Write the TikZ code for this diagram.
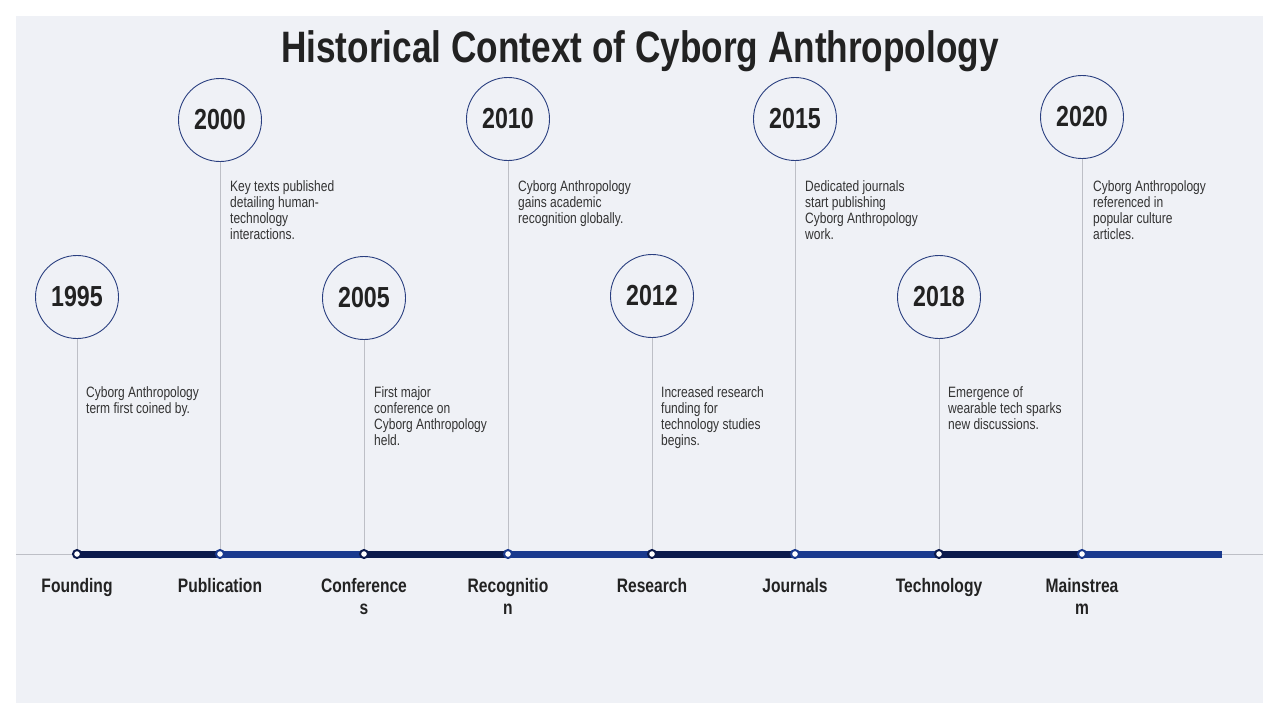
\documentclass[tikz,border=0pt]{standalone}
\usepackage{fontspec}
\setmainfont{Liberation Sans}[FakeStretch=0.8]
\usetikzlibrary{positioning}

\definecolor{panel}{HTML}{EFF1F6}
\definecolor{navy}{HTML}{0B1A4C}
\definecolor{royal}{HTML}{1A3A8E}
\definecolor{ring}{HTML}{2A3F80}
\definecolor{stem}{HTML}{BDBFC6}
\definecolor{ink}{HTML}{222222}
\definecolor{note}{HTML}{333333}

\begin{document}
\begin{tikzpicture}[x=1pt, y=-1pt,
    year/.style={draw=ring, fill=panel, circle, line width=0.9pt,
        minimum size=83pt, inner sep=0pt, text=ink,
        font=\fontsize{29}{32}\selectfont\bfseries},
    desc/.style={anchor=north west, inner sep=0pt, align=left, text=note,
        font=\fontsize{15}{16}\selectfont},
    dot/.style={circle, fill=white, line width=2pt, minimum size=8pt, inner sep=0pt},
    phase/.style={below=19pt of #1, inner sep=0pt, anchor=north, align=center, text=ink,
        font=\fontsize{19.5}{22}\selectfont\bfseries},
    seg/.style={line width=7pt}]

    % background
    \fill[white] (0,0) rectangle (1280,720);
    \fill[panel] (16,16) rectangle (1263,703);

    \node[anchor=base, text=ink, font=\fontsize{44}{48}\selectfont\bfseries]
        (title) at (640,62) {Historical Context of Cyborg Anthropology};

    % timeline
    \coordinate (lineL) at (16,554);
    \coordinate (lineR) at (1263,554);
    \coordinate (lineEnd) at (1222,554);
    \draw[stem, line width=0.8pt] (lineL) -- (lineR);

    \coordinate (p1) at (77,554);
    \coordinate (p2) at (220,554);
    \coordinate (p3) at (364,554);
    \coordinate (p4) at (508,554);
    \coordinate (p5) at (652,554);
    \coordinate (p6) at (795,554);
    \coordinate (p7) at (939,554);
    \coordinate (p8) at (1082,554);

    \draw[seg, navy] (p1) -- (p2);
    \draw[seg, royal] (p2) -- (p3);
    \draw[seg, navy] (p3) -- (p4);
    \draw[seg, royal] (p4) -- (p5);
    \draw[seg, navy] (p5) -- (p6);
    \draw[seg, royal] (p6) -- (p7);
    \draw[seg, navy] (p7) -- (p8);
    \draw[seg, royal] (p8) -- (lineEnd);

    % year circles
    \node[year] (y1995) at (77,297) {1995};
    \node[year] (y2000) at (220,120) {2000};
    \node[year] (y2005) at (364,298) {2005};
    \node[year] (y2010) at (508,119) {2010};
    \node[year] (y2012) at (652,296) {2012};
    \node[year] (y2015) at (795,119) {2015};
    \node[year] (y2018) at (939,297) {2018};
    \node[year] (y2020) at (1082,117) {2020};

    % stems
    \draw[stem, line width=0.8pt] (y1995.south) -- (p1);
    \draw[stem, line width=0.8pt] (y2000.south) -- (p2);
    \draw[stem, line width=0.8pt] (y2005.south) -- (p3);
    \draw[stem, line width=0.8pt] (y2010.south) -- (p4);
    \draw[stem, line width=0.8pt] (y2012.south) -- (p5);
    \draw[stem, line width=0.8pt] (y2015.south) -- (p6);
    \draw[stem, line width=0.8pt] (y2018.south) -- (p7);
    \draw[stem, line width=0.8pt] (y2020.south) -- (p8);

    % markers
    \node[dot, draw=navy] (d1) at (p1) {};
    \node[dot, draw=royal] (d2) at (p2) {};
    \node[dot, draw=navy] (d3) at (p3) {};
    \node[dot, draw=royal] (d4) at (p4) {};
    \node[dot, draw=navy] (d5) at (p5) {};
    \node[dot, draw=royal] (d6) at (p6) {};
    \node[dot, draw=navy] (d7) at (p7) {};
    \node[dot, draw=royal] (d8) at (p8) {};

    % descriptions
    \node[desc] (t1995) at (86,386) {Cyborg Anthropology\\term first coined by.};
    \node[desc] (t2000) at (230,180) {Key texts published\\detailing human-\\technology\\interactions.};
    \node[desc] (t2005) at (374,386) {First major\\conference on\\Cyborg Anthropology\\held.};
    \node[desc] (t2010) at (518,180) {Cyborg Anthropology\\gains academic\\recognition globally.};
    \node[desc] (t2012) at (661,386) {Increased research\\funding for\\technology studies\\begins.};
    \node[desc] (t2015) at (805,180) {Dedicated journals\\start publishing\\Cyborg Anthropology\\work.};
    \node[desc] (t2018) at (948,386) {Emergence of\\wearable tech sparks\\new discussions.};
    \node[desc] (t2020) at (1093,180) {Cyborg Anthropology\\referenced in\\popular culture\\articles.};

    % phase labels
    \node[phase=d1] (l1) {Founding};
    \node[phase=d2] (l2) {Publication};
    \node[phase=d3] (l3) {Conference\\s};
    \node[phase=d4] (l4) {Recognitio\\n};
    \node[phase=d5] (l5) {Research};
    \node[phase=d6] (l6) {Journals};
    \node[phase=d7] (l7) {Technology};
    \node[phase=d8] (l8) {Mainstrea\\m};
\end{tikzpicture}
\end{document}
